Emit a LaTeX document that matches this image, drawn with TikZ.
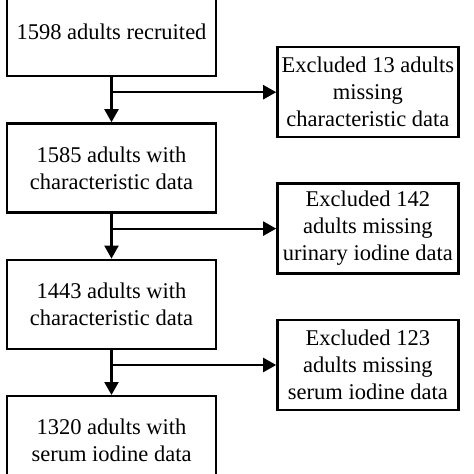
\documentclass[tikz,border=0pt]{standalone}
\usepackage{fontspec}
\setmainfont{Liberation Serif}
\usetikzlibrary{arrows.meta,positioning}

\begin{document}
\begin{tikzpicture}[
    x=1pt,y=1pt,
    node distance=45pt,
    line width=2.2pt,
    every node/.style={font=\fontsize{22.5}{27}\selectfont},
    box/.style={
        draw,line width=2.4pt,align=center,
        minimum width=209pt,minimum height=89pt,inner sep=0pt
    },
    exclbox/.style={
        draw,line width=2.4pt,align=center,
        minimum width=181pt,minimum height=90pt,inner sep=0pt
    },
    arr/.style={-{Triangle[length=13pt,width=14pt]}}
]
\clip (-111.5,31.5) rectangle (362.5,-442.5);
\node[box] (recruited) at (0,0) {1598 adults recruited};
\node[box,below=of recruited] (charA) {1585 adults with\\characteristic data};
\node[box,below=of charA] (charB) {1443 adults with\\characteristic data};
\node[box,below=of charB] (serum) {1320 adults with\\serum iodine data};
\node[exclbox,right=59pt of recruited.south east,yshift=-15pt] (exclA)
  {Excluded 13 adults\\missing\\characteristic data};
\node[exclbox,right=59pt of charA.south east,yshift=-15pt] (exclB)
  {Excluded 142\\adults missing\\urinary iodine data};
\node[exclbox,right=59pt of charB.south east,yshift=-15pt] (exclC)
  {Excluded 123\\adults missing\\serum iodine data};
\draw[arr] (recruited) -- (charA);
\draw[arr] (charA) -- (charB);
\draw[arr] (charB) -- (serum);
\draw[arr] (exclA -| recruited) -- (exclA);
\draw[arr] (exclB -| charA) -- (exclB);
\draw[arr] (exclC -| charB) -- (exclC);
\end{tikzpicture}
\end{document}
